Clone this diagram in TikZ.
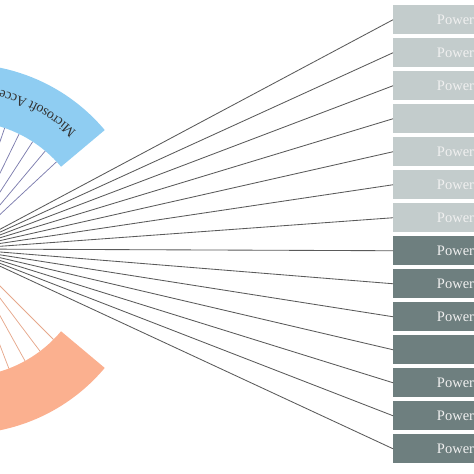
\documentclass[tikz,border=0pt]{standalone}
\usepackage{fontspec}
\setmainfont{Liberation Serif}
\usetikzlibrary{positioning,decorations.text}
\definecolor{accblue}{HTML}{8FCDF2}
\definecolor{accorange}{HTML}{FBB08F}
\definecolor{lightbox}{HTML}{C3CCCC}
\definecolor{darkbox}{HTML}{6E7F7F}
\definecolor{spokeblue}{HTML}{7E7EAE}
\definecolor{spokeorange}{HTML}{E6A88C}
\definecolor{linkgray}{HTML}{5A5A5A}

\begin{document}
\begin{tikzpicture}[
  x=1pt, y=1pt,
  node distance=3.5pt,
  box/.style={minimum width=125pt, minimum height=29.5pt, inner sep=0pt, outer sep=0pt,
              text height=0.95em, font=\fontsize{14.5}{15}\selectfont, text=white!94!black},
  light/.style={box, fill=lightbox},
  dark/.style={box, fill=darkbox},
  link/.style={linkgray, line width=0.85pt},
  bspoke/.style={spokeblue, line width=0.75pt},
  ospoke/.style={spokeorange, line width=0.75pt}
]
\useasboundingbox (0,0) rectangle (474,474);
\clip (0,0) rectangle (474,474);
\coordinate (hub) at (-37,225);

% spokes
\draw[bspoke] ([shift={(43:128)}]hub) -- ([shift={(43:30)}]hub);
\draw[bspoke] ([shift={(50:128)}]hub) -- ([shift={(50:30)}]hub);
\draw[bspoke] ([shift={(57:128)}]hub) -- ([shift={(57:30)}]hub);
\draw[bspoke] ([shift={(64:128)}]hub) -- ([shift={(64:30)}]hub);
\draw[bspoke] ([shift={(71:128)}]hub) -- ([shift={(71:30)}]hub);
\draw[ospoke] ([shift={(-45:128)}]hub) -- ([shift={(-45:30)}]hub);
\draw[ospoke] ([shift={(-53:128)}]hub) -- ([shift={(-53:30)}]hub);
\draw[ospoke] ([shift={(-61:128)}]hub) -- ([shift={(-61:30)}]hub);
\draw[ospoke] ([shift={(-69:128)}]hub) -- ([shift={(-69:30)}]hub);

% sectors
\fill[accblue] ([shift={(40:185)}]hub) arc[start angle=40, end angle=140, radius=185]
  -- ([shift={(140:128)}]hub) arc[start angle=140, end angle=40, radius=128] -- cycle;
\fill[accorange] ([shift={(-40:185)}]hub) arc[start angle=-40, end angle=-140, radius=185]
  -- ([shift={(-140:128)}]hub) arc[start angle=-140, end angle=-40, radius=128] -- cycle;
\path[decorate, decoration={text along path, text color=black!80,
      text={|\fontsize{14}{14}\selectfont|Microsoft Access}}]
  ([shift={(46:163)}]hub) arc[start angle=46, end angle=130, radius=163];

\node[light, anchor=north west] (b1) at (393,469) {Power};
\node[light, below=of b1] (b2) {Power};
\node[light, below=of b2] (b3) {Power};
\node[light, below=of b3] (b4) {};
\node[light, below=of b4] (b5) {Power};
\node[light, below=of b5] (b6) {Power};
\node[light, below=of b6] (b7) {Power};
\node[dark, below=of b7] (b8) {Power};
\node[dark, below=of b8] (b9) {Power};
\node[dark, below=of b9] (b10) {Power};
\node[dark, below=of b10] (b11) {};
\node[dark, below=of b11] (b12) {Power};
\node[dark, below=of b12] (b13) {Power};
\node[dark, below=of b13] (b14) {Power};

\draw[link] (hub) -- (b1.west);
\draw[link] (hub) -- (b2.west);
\draw[link] (hub) -- (b3.west);
\draw[link] (hub) -- (b4.west);
\draw[link] (hub) -- (b5.west);
\draw[link] (hub) -- (b6.west);
\draw[link] (hub) -- (b7.west);
\draw[link] (hub) -- (b8.west);
\draw[link] (hub) -- (b9.west);
\draw[link] (hub) -- (b10.west);
\draw[link] (hub) -- (b11.west);
\draw[link] (hub) -- (b12.west);
\draw[link] (hub) -- (b13.west);
\draw[link] (hub) -- (b14.west);
\end{tikzpicture}
\end{document}
